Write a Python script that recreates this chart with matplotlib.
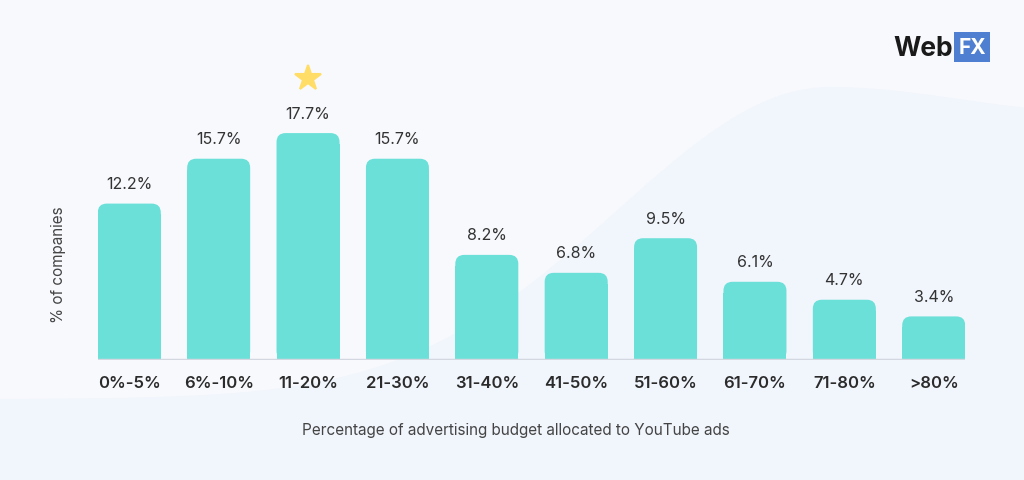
import numpy as np
import matplotlib
matplotlib.use("Agg")
import matplotlib.pyplot as plt
from matplotlib.patches import FancyBboxPatch, Rectangle, Polygon
from matplotlib.transforms import offset_copy

plt.rcParams['font.family'] = ['Inter', 'DejaVu Sans']

categories = ['0%-5%', '6%-10%', '11-20%', '21-30%', '31-40%',
              '41-50%', '51-60%', '61-70%', '71-80%', '>80%']
values = [12.2, 15.7, 17.7, 15.7, 8.2, 6.8, 9.5, 6.1, 4.7, 3.4]
value_labels = ['12.2%', '15.7%', '17.7%', '15.7%', '8.2%',
                '6.8%', '9.5%', '6.1%', '4.7%', '3.4%']
star_index = 2

W, H = 1024, 481
fig = plt.figure(figsize=(W / 100, H / 100), dpi=100)
fig.patch.set_facecolor('#f8f9fd')

# background wave (decoration only)
bg = fig.add_axes([0, 0, 1, 1], zorder=0)
bg.set_xlim(0, W)
bg.set_ylim(H, 0)
bg.axis('off')
wx = np.linspace(0, W, 200)
wy = np.where(wx < 830, 400 - 312 * np.exp(-((wx - 830) / 300) ** 2),
              88 + 30 * (1 - np.exp(-((wx - 830) / 180) ** 2)))
poly = np.column_stack([np.r_[wx, W, 0], np.r_[wy, H, H]])
bg.add_patch(Polygon(poly, closed=True, facecolor='#f1f5fc', edgecolor='none'))

# main axes
ax_left = 98 / W
ax_width = 867 / W
ax_bottom = 1 - 361 / H
ymax = 25
ax_height = (ymax * 12.82) / H
ax = fig.add_axes([ax_left, ax_bottom, ax_width, ax_height], zorder=1)
ax.patch.set_alpha(0)
ax.set_xlim(-0.35, len(values) - 1 + 0.35)
ax.set_ylim(0, ymax)

bar_w = 0.705
color = '#6be0d8'
px_x = (ax.get_xlim()[1] - ax.get_xlim()[0]) / 867
px_y = 1 / 12.82
r = 9 * px_x
aspect = px_y / px_x
for i, v in enumerate(values):
    x0 = i - bar_w / 2
    # rounded top, square bottom
    ax.add_patch(FancyBboxPatch((x0, 0), bar_w, v,
                                boxstyle=f"round,pad=0,rounding_size={r}",
                                mutation_aspect=aspect,
                                facecolor=color, edgecolor='none'))
    ax.add_patch(Rectangle((x0, 0), bar_w, v - r * aspect * 1.2,
                           facecolor=color, edgecolor='none'))
    ax.annotate(value_labels[i], (i, v), xytext=(0, 9), textcoords='offset points',
                ha='center', va='bottom', fontsize=11.5, color='#333333')

# star above the highest bar label
ax.plot([star_index], [values[star_index]], marker='*', ms=19,
        color='#ffdd66', mec='#ffdd66', mew=1.5, ls='none', zorder=3,
        transform=offset_copy(ax.transData, fig=fig, x=0, y=55, units='dots'))

ax.axhline(0, color='#d3d7e0', lw=2.5, zorder=4)
for s in ax.spines.values():
    s.set_visible(False)
ax.set_yticks([])
ax.set_xticks(range(len(categories)))
ax.set_xticklabels(categories, fontsize=12, fontweight='semibold', color='#2b2b2b')
ax.tick_params(axis='x', length=0, pad=11)

fig.text(59 / W, 1 - 265 / H, '% of companies', rotation=90,
         ha='center', va='center', fontsize=11, color='#444444')
fig.text(0.5 + 4 / W, 1 - 431 / H, 'Percentage of advertising budget allocated to YouTube ads',
         ha='center', va='center', fontsize=11, color='#444444')

# logo
fig.text(893 / W, 1 - 49 / H, 'Web', ha='left', va='center', fontsize=19,
         fontweight='bold', color='#1a1a1a')
fig.text(972 / W, 1 - 48 / H, 'FX', ha='center', va='center', fontsize=15,
         fontweight='bold', color='white',
         bbox=dict(boxstyle='square,pad=0.22', facecolor='#4f7fd0', edgecolor='none'))

fig.savefig('out.png', dpi=100, facecolor=fig.get_facecolor())
